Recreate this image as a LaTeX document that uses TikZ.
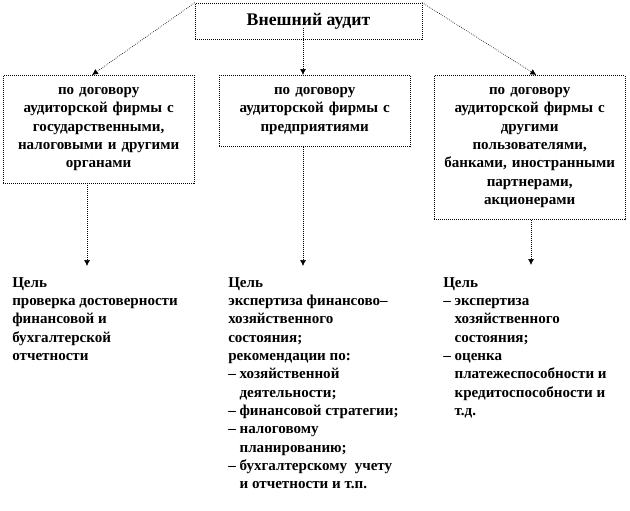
\documentclass[tikz,border=0pt]{standalone}
\usepackage{fontspec}
\setmainfont{Liberation Serif}
\usetikzlibrary{arrows,arrows.meta}
\newcommand\dashind{\hspace*{8.5pt}}
\tikzset{
  box/.style={draw, densely dotted, line width=0.5pt, text width=136pt, align=center,
    anchor=north west, inner xsep=3.5pt, inner ysep=9pt,
    font=\bfseries\fontsize{11.3}{13.75}\selectfont},
  goal/.style={anchor=north west, align=left, inner sep=0pt,
    font=\bfseries\fontsize{11.3}{13.75}\selectfont},
  link/.style={densely dotted, line width=0.5pt, -{Latex[length=4.5pt,width=4.5pt]}}
}

\begin{document}
\begin{tikzpicture}[x=0.75pt,y=-0.75pt]
\useasboundingbox (0,0) rectangle (630,510);
\node[draw, densely dotted, line width=0.5pt, minimum width=170pt, minimum height=27pt,
  font=\bfseries\fontsize{13.3}{16}\selectfont] (audit) at (308.5,21) {Внешний аудит};
\node[box] (gov) at (3,75) {по договору\\аудиторской фирмы с\\государственными,\\налоговыми и другими\\органами};
\node[box] (firm) at (219,75) {по договору\\аудиторской фирмы с\\предприятиями\\[22pt]};
\node[box] (users) at (434,75) {по договору\\аудиторской фирмы с\\другими\\пользователями,\\банками, иностранными\\партнерами,\\акционерами};
% goals
\node[goal] (goalgov) at (12,277) {Цель\\проверка достоверности\\финансовой и\\бухгалтерской\\отчетности};
\node[goal] (goalfirm) at (228,277) {Цель\\экспертиза финансово–\\хозяйственного\\состояния;\\рекомендации по:\\– хозяйственной\\\dashind деятельности;\\– финансовой стратегии;\\– налоговому\\\dashind планированию;\\– бухгалтерскому\ \ учету\\\dashind и отчетности и т.п.};
\node[goal] (goalusers) at (443,277) {Цель\\– экспертиза\\\dashind хозяйственного\\\dashind состояния;\\– оценка\\\dashind платежеспособности и\\\dashind кредитоспособности и\\\dashind т.д.};
\coordinate (midtop) at (303,28);
\coordinate (tipgov) at (87,266);
\coordinate (tipfirm) at (303,266);
\coordinate (tipusers) at (531,265);
\draw[link] (audit.north west) -- ([xshift=-5pt]gov.north);
\draw[link] (midtop) -- (firm.north -| midtop);
\draw[link] (audit.north east) -- ([xshift=5pt]users.north);
\draw[link] (gov.south -| tipgov) -- (tipgov);
\draw[link] (firm.south -| tipfirm) -- (tipfirm);
\draw[link] (users.south -| tipusers) -- (tipusers);
\end{tikzpicture}
\end{document}
